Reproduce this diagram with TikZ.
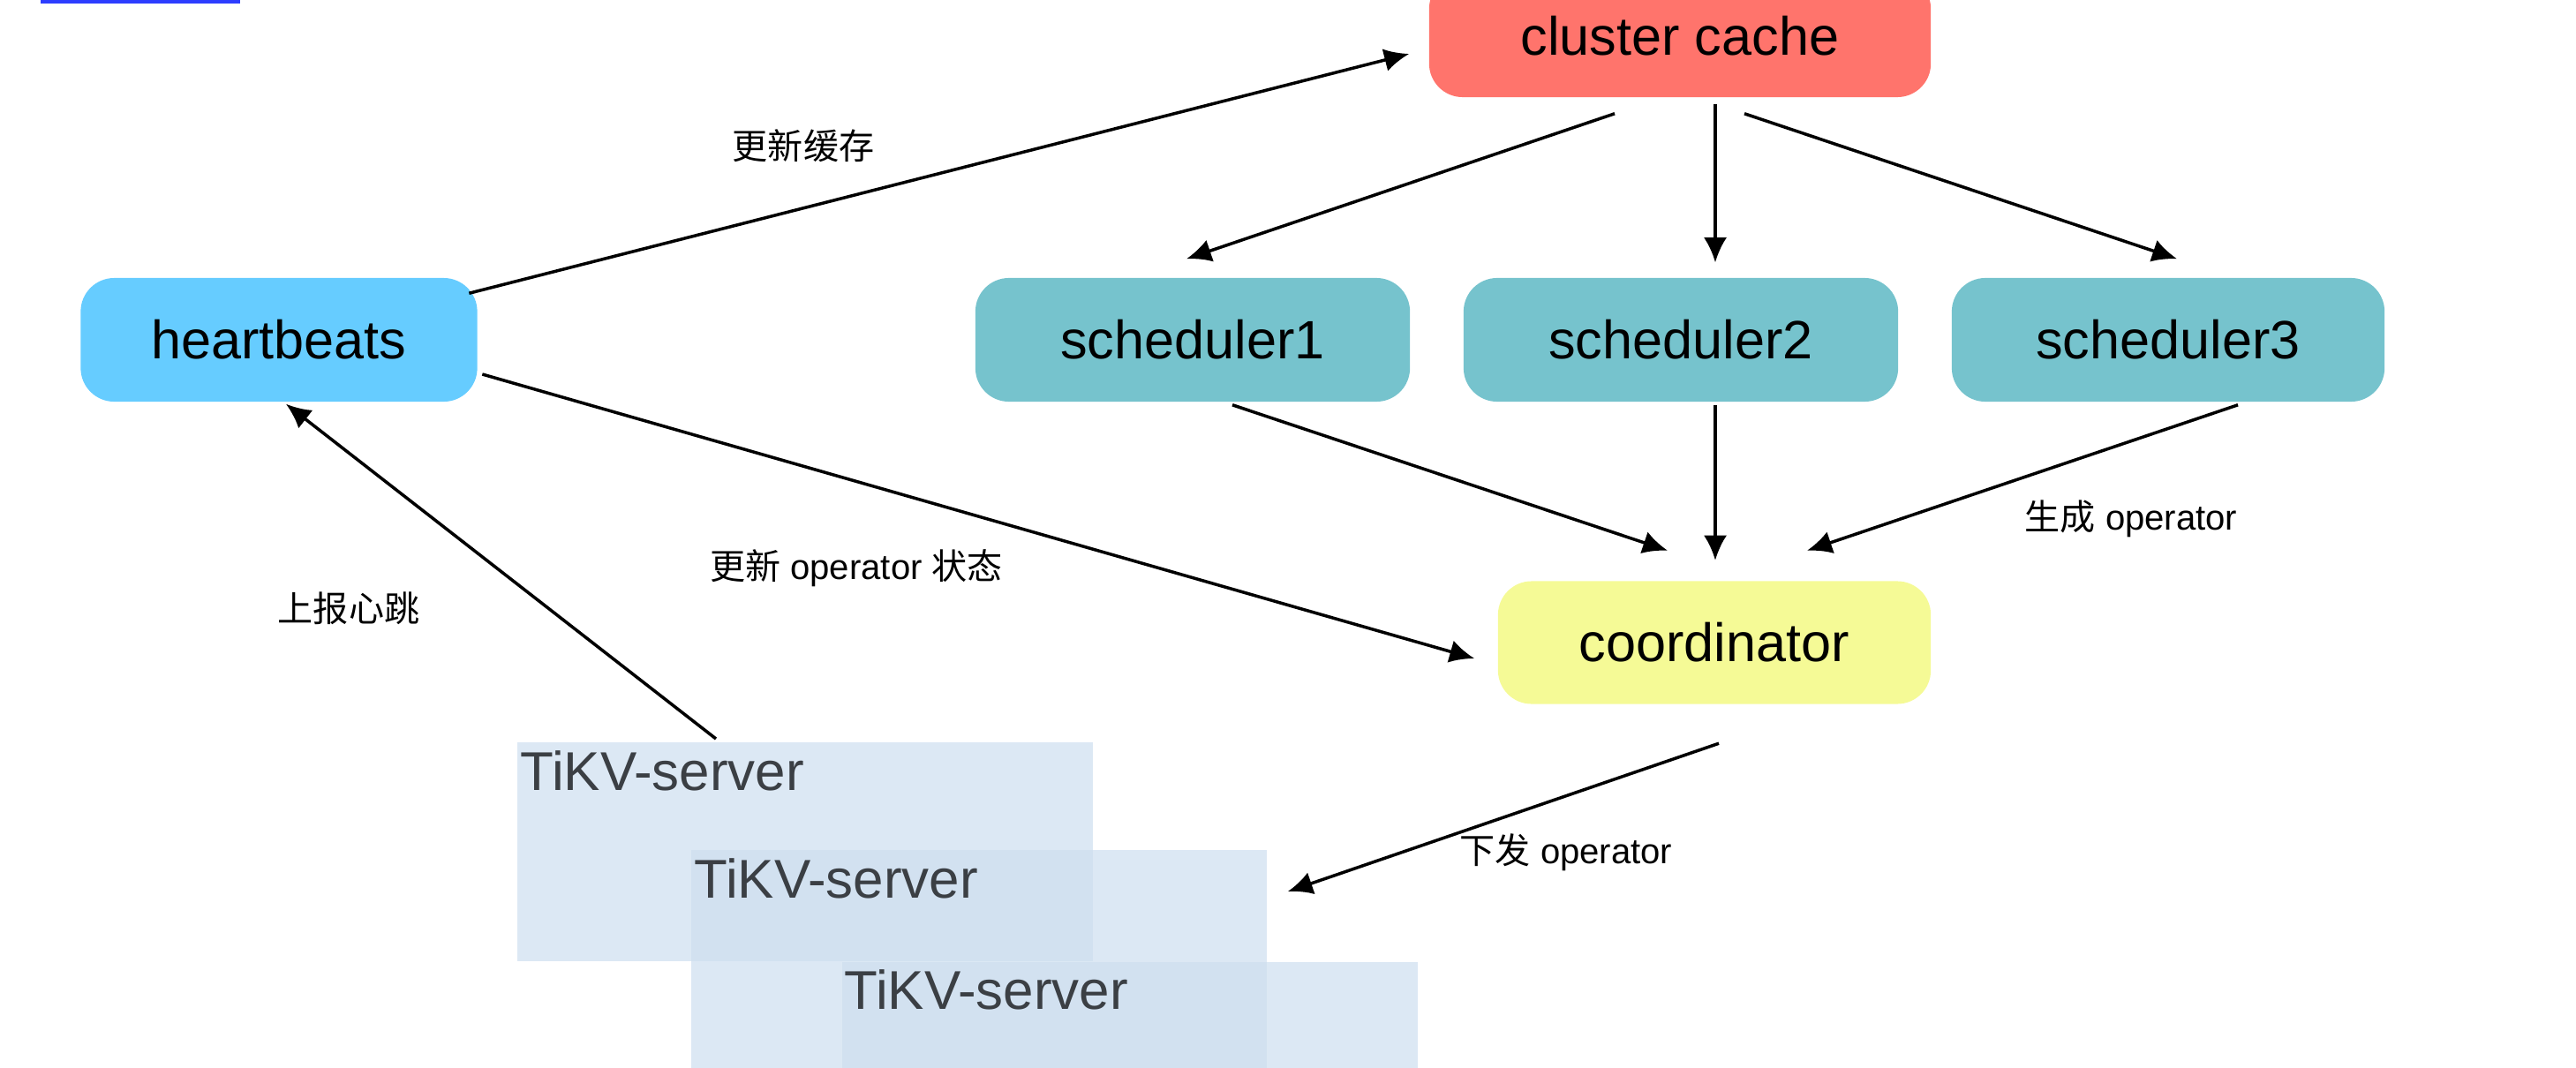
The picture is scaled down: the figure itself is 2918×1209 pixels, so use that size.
\documentclass[tikz,border=0pt]{standalone}
\usepackage{fontspec}
\setmainfont{Liberation Sans}
\newfontfamily\cjk{Noto Sans CJK SC}
\usetikzlibrary{arrows.meta}
\definecolor{ccred}{RGB}{255,116,108}
\definecolor{hbblue}{RGB}{102,204,255}
\definecolor{schteal}{RGB}{118,195,205}
\definecolor{coyel}{RGB}{245,250,150}
\definecolor{tkfill}{RGB}{205,222,239}
\definecolor{tktext}{RGB}{59,63,68}
\definecolor{barblue}{RGB}{45,61,255}
\tikzset{
  mainbox/.style={rounded corners=0.38cm, inner sep=0pt, font=\fontsize{17.4}{20}\selectfont, text=black},
  tkbox/.style={fill=tkfill, fill opacity=0.7, draw=none, inner sep=0pt, anchor=north west, minimum width=6.52cm, minimum height=2.48cm},
  tklabel/.style={anchor=base west, inner sep=0pt, text=tktext, font=\fontsize{17.6}{20}\selectfont},
  lab/.style={inner sep=0pt, font=\fontsize{11.4}{13}\selectfont},
  arr/.style={line width=1pt, draw=black, -{Latex[length=0.28cm,width=0.26cm]}},
}
\begin{document}
\begin{tikzpicture}[x=0.01cm, y=-0.01cm]
\useasboundingbox (0,0) rectangle (2918,1209);
\clip (0,0) rectangle (2918,1209);
\fill[barblue] (46,0) rectangle (272,4);
% TiKV server boxes
\node[tkbox] (tk1) at (585,840) {};
\node[tklabel] (tk1t) at ([shift={(4,55)}]tk1.north west) {TiKV-server};
\node[tkbox] (tk2) at (782,962) {};
\node[tklabel] (tk2t) at ([shift={(4,55)}]tk2.north west) {TiKV-server};
\node[tkbox] (tk3) at (953,1089) {};
\node[tklabel] (tk3t) at ([shift={(3,54)}]tk3.north west) {TiKV-server};
% main boxes
\node[mainbox, fill=ccred, minimum width=5.68cm, minimum height=1.38cm] (cc) at (1903,41) {cluster cache};
\node[mainbox, fill=hbblue, minimum width=4.49cm, minimum height=1.40cm] (hb) at (316,385) {heartbeats};
\node[mainbox, fill=schteal, minimum width=4.92cm, minimum height=1.40cm] (s1) at (1351,385) {scheduler1};
\node[mainbox, fill=schteal, minimum width=4.92cm, minimum height=1.40cm] (s2) at (1904,385) {scheduler2};
\node[mainbox, fill=schteal, minimum width=4.90cm, minimum height=1.40cm] (s3) at (2456,385) {scheduler3};
\node[mainbox, fill=coyel, minimum width=4.90cm, minimum height=1.39cm] (co) at (1942,728) {coordinator};
% arrows
\draw[arr] ([shift={(-10,18)}]hb.north east) -- ([shift={(-22,20)}]cc.west);
\draw[arr] ([shift={(-74,18)}]cc.south) -- ([shift={(-7,-21)}]s1.north);
\draw[arr] ([shift={(40,7)}]cc.south) -- ([shift={(39,-17)}]s2.north);
\draw[arr] ([shift={(73,18)}]cc.south) -- ([shift={(10,-21)}]s3.north);
\draw[arr] ([shift={(45,3)}]s1.south) -- ([shift={(-53,-34)}]co.north);
\draw[arr] ([shift={(39,3)}]s2.south) -- ([shift={(1,-23)}]co.north);
\draw[arr] ([shift={(79,3)}]s3.south) -- ([shift={(105,-34)}]co.north);
\draw[arr] ([shift={(5,39)}]hb.east) -- ([shift={(-26,18)}]co.west);
\draw[arr] ([shift={(226,-3)}]tk1.north west) -- ([shift={(8,2)}]hb.south);
\draw[arr] ([shift={(5,44)}]co.south) -- ([shift={(23,48)}]tk2.north east);
% labels
\node[lab] (l1) at (910,165) {\cjk 更新缓存};
\node[lab] (l2) at (395,689) {\cjk 上报心跳};
\node[lab] (l3) at (970,644) {{\cjk 更新} operator {\cjk 状态}};
\node[lab] (l4) at (2414,588) {{\cjk 生成} operator};
\node[lab] (l5) at (1774,966) {{\cjk 下发} operator};
\end{tikzpicture}
\end{document}
